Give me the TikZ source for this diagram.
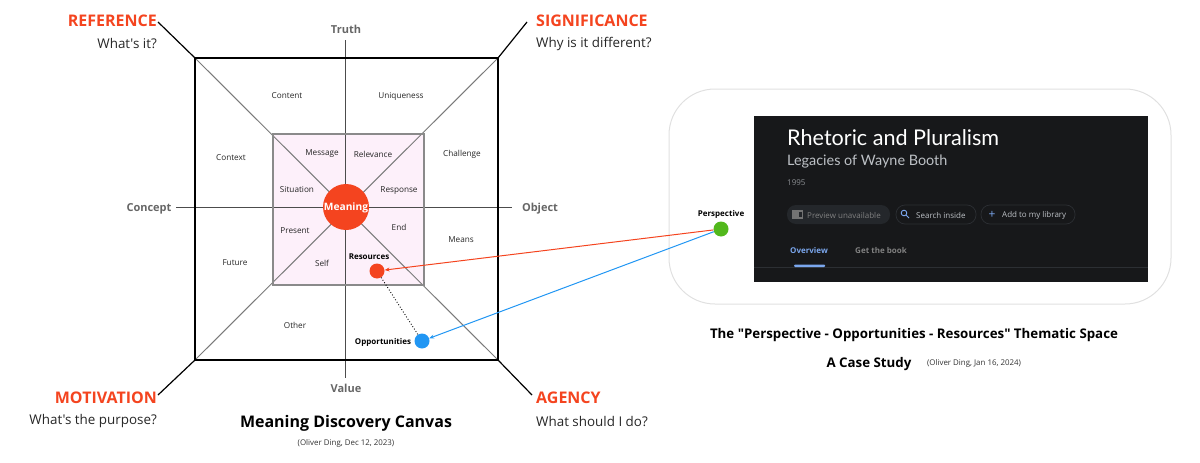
\documentclass[tikz,border=0pt]{standalone}
\usepackage{fontspec}
\setmainfont{Open Sans}[Ligatures=TeXOff]
\newfontfamily\bookfont{Lato}
\usepackage{tikz}
\usetikzlibrary{arrows.meta}
\definecolor{redtitle}{HTML}{F4441F}
\definecolor{pinkfill}{HTML}{FDF0FA}
\definecolor{linegray}{HTML}{7A7A7A}
\definecolor{boxgray}{HTML}{8A8A8A}
\definecolor{labelgray}{HTML}{666666}
\definecolor{darkpanel}{HTML}{17181A}
\definecolor{dotblue}{HTML}{2196F3}
\definecolor{dotgreen}{HTML}{52B81C}
\definecolor{chipgray}{HTML}{24272B}
\definecolor{chipedge}{HTML}{2C2F33}
\definecolor{booktext}{HTML}{BDC1C6}
\definecolor{linkblue}{HTML}{7BA7EE}
\tikzset{
    cell/.style={font=\fontsize{8.2}{10}\selectfont,text=black!85,inner sep=0pt,yshift=-1pt},
    axis/.style={font=\fontsize{11}{13}\selectfont\bfseries,text=labelgray,inner sep=0pt,text height=8pt,text depth=0pt},
    headline/.style={font=\fontsize{16}{18}\selectfont\bfseries,text=redtitle,inner sep=0pt,yshift=-1pt},
    question/.style={font=\fontsize{13.4}{15}\selectfont,text=black!85,inner sep=0pt,yshift=-1.5pt},
    dotlabel/.style={font=\fontsize{8}{10}\selectfont\bfseries,inner sep=0pt,yshift=-1pt},
    note/.style={font=\fontsize{7.9}{8}\selectfont,text=black!80,inner sep=0pt,yshift=-1pt},
    caption/.style={font=\fontsize{13.3}{15}\selectfont\bfseries,inner sep=0pt,yshift=-2pt},
    dot/.style={circle,minimum size=#1,inner sep=0pt},
    chip/.style={rounded corners=9pt,line width=0.7pt},
    booklabel/.style={anchor=west,inner sep=0pt,font=\fontsize{8}{10}\selectfont,yshift=-1pt}
}
\begin{document}
\begin{tikzpicture}[x=1pt,y=-1pt]
\useasboundingbox (0,0) rectangle (1200,463);
% Canvas corners
\coordinate (OutNW) at (195,58);
\coordinate (OutNE) at (498,58);
\coordinate (OutSW) at (195,360);
\coordinate (OutSE) at (498,360);
\coordinate (InNW) at (273,134);
\coordinate (InSE) at (424,285);
\coordinate (TipNW) at (158,22);
\coordinate (TipNE) at (527,22);
\coordinate (TipSW) at (158,395);
\coordinate (TipSE) at (532,395);
\coordinate (TipN) at (345,40);
\coordinate (TipS) at (345,378);
\coordinate (TipW) at (176,207);
\coordinate (TipE) at (512,207);
% Inner square
\fill[pinkfill] (InNW) rectangle (InSE);
% Diagonals and axes
\draw[linegray,line width=1pt] (OutNW) -- (OutSE);
\draw[linegray,line width=1pt] (OutNE) -- (OutSW);
\draw[black!70,line width=1pt] (TipN) -- (TipS);
\draw[black!70,line width=1pt] (TipW) -- (TipE);
\draw[black,line width=1.2pt] (TipNW) -- (OutNW);
\draw[black,line width=1.2pt] (TipNE) -- (OutNE);
\draw[black,line width=1.2pt] (TipSW) -- (OutSW);
\draw[black,line width=1.2pt] (TipSE) -- (OutSE);
\draw[boxgray,line width=1.3pt] (InNW) rectangle (InSE);
\draw[black,line width=1.4pt] (OutNW) rectangle (OutSE);
\draw (346,207) node[dot=46pt,fill=redtitle,text=white,text height=7.5pt,text depth=0pt,font=\fontsize{10.2}{12}\selectfont\bfseries] (Meaning){Meaning};
% Axis labels
\draw (346,30) node[axis] (Truth){Truth};
\draw (149,207) node[axis] (Concept){Concept};
\draw (540,207) node[axis] (Object){Object};
\draw (346,388) node[axis] (Value){Value};
% Outer cells
\draw (287,95) node[cell] (Content){Content};
\draw (401,95) node[cell] (Uniqueness){Uniqueness};
\draw (231,157) node[cell] (Context){Context};
\draw (462,153) node[cell] (Challenge){Challenge};
\draw (461,239) node[cell] (Means){Means};
\draw (235,262) node[cell] (Future){Future};
\draw (295,324) node[cell] (Other){Other};
% Inner cells
\draw (322,153) node[cell] (Message){Message};
\draw (373,153) node[cell] (Relevance){Relevance};
\draw (297,189) node[cell] (Situation){Situation};
\draw (399,190) node[cell] (Response){Response};
\draw (295,230) node[cell] (Present){Present};
\draw (399,226) node[cell] (End){End};
\draw (322,262) node[cell] (Self){Self};
% Headlines
\draw (157,20) node[headline,anchor=east] (Reference){REFERENCE};
\draw (157,42) node[question,anchor=east] (ReferenceQ){What's it?};
\draw (536,20) node[headline,anchor=west] (Significance){SIGNIFICANCE};
\draw (536,42) node[question,anchor=west] (SignificanceQ){Why is it different?};
\draw (157,397) node[headline,anchor=east] (Motivation){MOTIVATION};
\draw (157,420) node[question,anchor=east] (MotivationQ){What's the purpose?};
\draw (536,397) node[headline,anchor=west] (Agency){AGENCY};
\draw (536,420) node[question,anchor=west] (AgencyQ){What should I do?};
\draw (346,423) node[font=\fontsize{16}{18}\selectfont\bfseries,inner sep=0pt] (CanvasTitle){Meaning Discovery Canvas};
\draw (346,442) node[note] (CanvasNote){(Oliver Ding, Dec 12, 2023)};
% Book frame
\draw[black!12,line width=1pt,rounded corners=46pt] (669,89) rectangle (1171,304);
\fill[darkpanel] (754,116) rectangle (1148,282);
\draw[chipedge,line width=0.7pt] (754,267) -- (1148,267);
\draw (787,138) node[anchor=west,inner sep=0pt,text=white,font=\bookfont\fontsize{21.6}{24}\selectfont] (BookTitle){Rhetoric and Pluralism};
\draw (787,161.5) node[anchor=west,inner sep=0pt,text=booktext,font=\bookfont\fontsize{14.4}{16}\selectfont] (BookSub){Legacies of Wayne Booth};
\draw (787,182) node[booklabel,text=booktext!70!darkpanel] (BookYear){1995};
% Book buttons
\fill[chipgray,chip] (787,205) rectangle (890,224);
\fill[black!55] (792,210) rectangle (803,219);
\fill[chipgray] (799,212) rectangle (802,217);
\draw (807,214.5) node[booklabel,text=black!50] (Preview){Preview unavailable};
\draw[chipedge,chip] (896,205) rectangle (976,224);
\draw[linkblue,line width=0.9pt] (904,213) circle (2.8pt);
\draw[linkblue,line width=0.9pt] (906,215) -- (909,218);
\draw (916,214.5) node[booklabel,text=booktext] (Search){Search inside};
\draw[chipedge,chip] (981,205) rectangle (1075,224);
\draw (992,214.5) node[inner sep=0pt,text=linkblue,font=\fontsize{12}{10}\selectfont] (Plus){+};
\draw (1002,214.5) node[booklabel,text=booktext] (Library){Add to my library};
\draw (809,250) node[inner sep=0pt,text=linkblue,font=\fontsize{8}{10}\selectfont\bfseries] (Overview){Overview};
\draw (881,250) node[inner sep=0pt,text=black!50,font=\fontsize{8}{10}\selectfont\bfseries] (GetBook){Get the book};
\fill[linkblue,rounded corners=1pt] (794,267) rectangle (825,264.5);
% Dots
\draw (377,271) node[dot=15pt,fill=redtitle] (Resources){};
\draw (422,341) node[dot=15pt,fill=dotblue] (Opportunities){};
\draw (721,229) node[dot=15pt,fill=dotgreen] (Perspective){};
\draw (Resources)++(-8,-15) node[dotlabel] (ResourcesText){Resources};
\draw (Opportunities)++(-39,0) node[dotlabel] (OpportunitiesText){Opportunities};
\draw (Perspective)++(0,-16) node[dotlabel] (PerspectiveText){Perspective};
% Connections
\draw[-{Stealth[length=5pt,width=4pt]},redtitle,line width=1pt] (Perspective) -- (Resources);
\draw[-{Stealth[length=5pt,width=4pt]},dotblue,line width=1pt] (Perspective) -- (Opportunities);
\draw[black,dotted,line width=0.9pt] (Resources) -- (Opportunities);
% Captions
\draw (914,333) node[caption] (SpaceTitle){The "Perspective - Opportunities - Resources" Thematic Space};
\draw (869,362) node[caption] (CaseTitle){A Case Study};
\draw (974,362) node[note] (CaseNote){(Oliver Ding, Jan 16, 2024)};
\end{tikzpicture}
\end{document}
